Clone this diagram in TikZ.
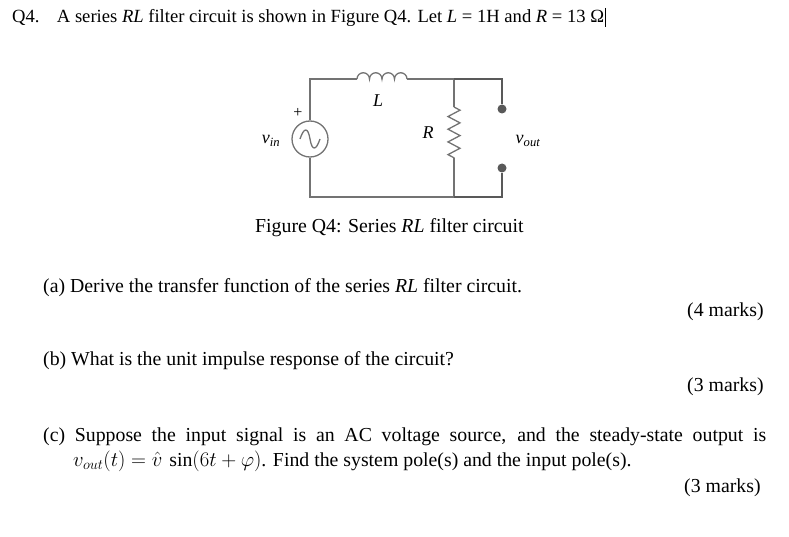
\documentclass[tikz,border=0pt]{standalone}
\usepackage{fontspec}
\setmainfont{Liberation Serif}
\usetikzlibrary{decorations.pathmorphing}
\begin{document}
\begin{tikzpicture}[x=1pt,y=-1pt,
  txt/.style={anchor=base west,inner sep=0pt,font=\fontsize{19.8}{22}\selectfont},
  wire/.style={draw=black!55,line width=1.3pt},
  owire/.style={draw=black!65,line width=2.4pt},
  lab/.style={inner sep=0pt,font=\fontsize{18}{20}\selectfont\itshape}]
\useasboundingbox (0,0) rectangle (789,537);
\node[txt,font=\fontsize{18.6}{22}\selectfont] (q) at (12,23) {Q4.\hspace{0.6em} A series \textit{RL} filter circuit is shown in Figure Q4. Let \textit{L} = 1H and \textit{R} = 13 Ω};
\draw (605,8) -- (605,27);
% circuit
\coordinate (tl) at (310,79); \coordinate (bl) at (310,197);
\coordinate (tr) at (454,79); \coordinate (br) at (454,197);
\coordinate (l1) at (357,79); \coordinate (l2) at (407,79);
\coordinate (r1) at (454,107); \coordinate (r2) at (454,158);
\node[circle,draw=black!55,line width=1.3pt,minimum size=36pt,inner sep=0pt] (src) at (310,139) {};
\draw[black!55,line width=1.3pt] (300,139) .. controls (304,127) and (308,127) .. (310,139) .. controls (312,151) and (316,151) .. (320,139);
\draw[wire] (src.north) -- (tl) -- (l1);
\draw[wire] (l1) arc[start angle=180,end angle=360,radius=6.25] arc[start angle=180,end angle=360,radius=6.25] arc[start angle=180,end angle=360,radius=6.25] arc[start angle=180,end angle=360,radius=6.25];
\draw[wire] (l2) -- (tr) -- (r1);
\draw[wire,decoration={zigzag,segment length=12.7pt,amplitude=6pt},decorate] (r1) -- (r2);
\draw[wire] (r2) -- (br) -- (bl) -- (src.south);
\coordinate (ot) at (502,79); \coordinate (ob) at (502,197);
\node[circle,fill=black!65,inner sep=0pt,minimum size=9pt] (d1) at (502,109) {};
\node[circle,fill=black!65,inner sep=0pt,minimum size=9pt] (d2) at (502,168) {};
\draw[owire] (tr) -- (ot) -- (d1);
\draw[owire] (br) -- (ob) -- (d2);
\node[lab] (Ll) at (378,101) {L};
\node[lab] (Rl) at (428,133) {R};
\node[inner sep=0pt,font=\fontsize{16}{18}\selectfont] (pl) at (298,113) {+};
\node[lab] (vin) at (271,141) {v\textsubscript{in}};
\node[lab] (vout) at (528,141) {v\textsubscript{out}};
\node[txt] (cap) at (255,233) {Figure Q4: Series \textit{RL} filter circuit};
\node[txt] (a) at (43,292) {(a) Derive the transfer function of the series \textit{RL} filter circuit.};
\node[txt] (am) at (687,316) {(4 marks)};
\node[txt] (b) at (43,365) {(b) What is the unit impulse response of the circuit?};
\node[txt] (bm) at (687,391) {(3 marks)};
\node[txt] (c) at (43,441) {\makebox[723pt][s]{(c) Suppose the input signal is an AC voltage source, and the steady-state output is}};
\node[txt] (c2) at (73,466) {$v_{out}(t)=\hat v\,\sin(6t+\varphi)$. Find the system pole(s) and the input pole(s).};
\node[txt] (cm) at (684,492) {(3 marks)};
\end{tikzpicture}
\end{document}
